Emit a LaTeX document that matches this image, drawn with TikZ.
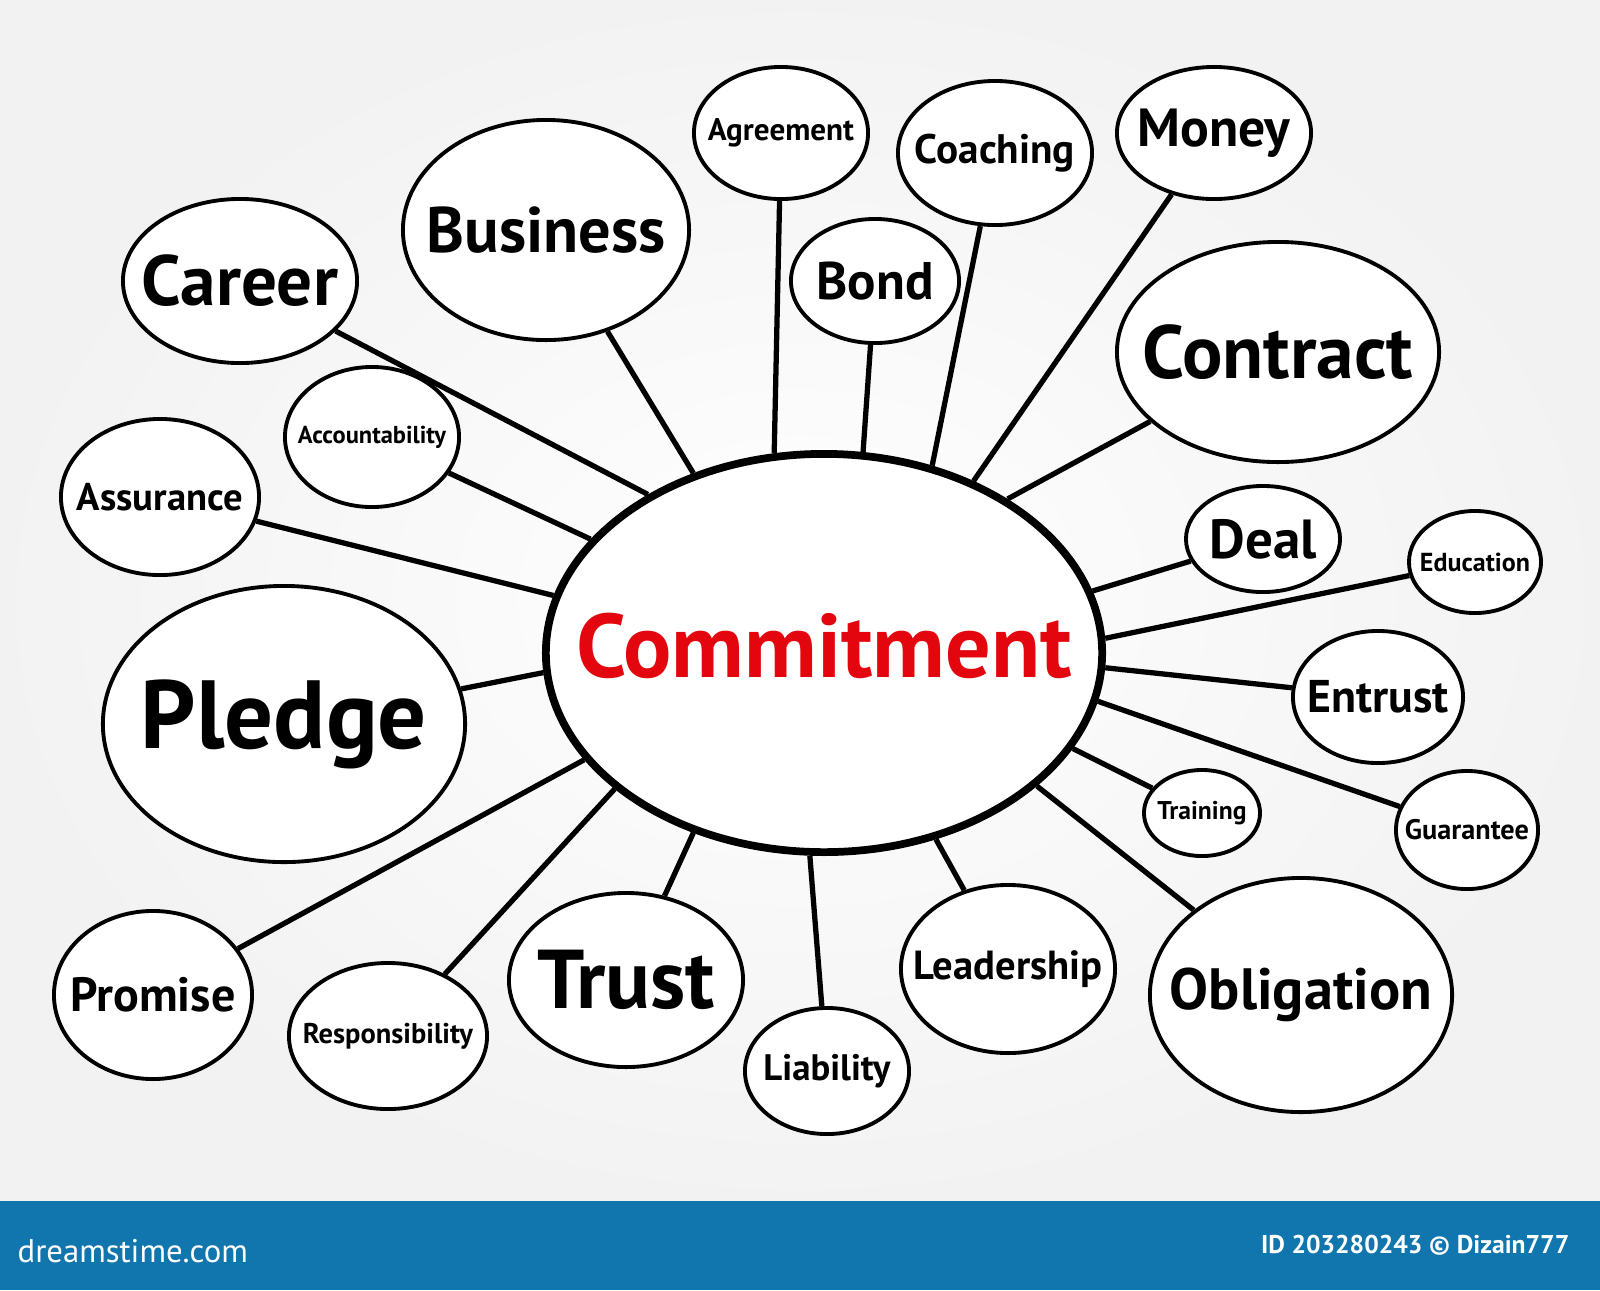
\documentclass[tikz,border=0pt]{standalone}
\usepackage{fontspec}
\setmainfont{PT Sans}
\usepackage{graphicx}
\usetikzlibrary{shapes.geometric}
\definecolor{commitred}{RGB}{228,6,14}
\definecolor{barblue}{RGB}{17,118,174}
\newcommand{\fitw}[2]{\makebox[0pt]{\resizebox{#1}{!}{#2}}}

\begin{document}
\begin{tikzpicture}[x=0.01cm,y=-0.01cm,
	centre node/.style={ellipse, draw, fill=white, line width=2.2pt, inner sep=0pt,
		minimum width=5.56cm, minimum height=3.98cm, text=commitred, font=\bfseries},
	idea node/.style={ellipse, draw, fill=white, line width=1.1pt, inner sep=0pt, font=\bfseries},
	ovalsize/.style 2 args={minimum width=#1cm, minimum height=#2cm},
	link/.style={line width=1.5pt},
	bar text/.style={text=white, inner sep=0pt}]

	\useasboundingbox (0,0) rectangle (1600,1290);
	\shade[inner color=white, outer color=black!5] (0,0) rectangle (1600,1201);
	\fill[barblue] (0,1201) rectangle (1600,1290);

	% centre
	\node[centre node](hub) at (824,653){\raisebox{0.15cm}{\fitw{4.95cm}{Commitment}}};

	% upper half
	\node[idea node, ovalsize={2.34}{1.64}](career) at (240,281){\fitw{1.96cm}{Career}};
	\node[idea node, ovalsize={2.86}{2.20}](business) at (546,230){\fitw{2.39cm}{Business}};
	\node[idea node, ovalsize={1.74}{1.32}](agreement) at (781,133){\fitw{1.46cm}{Agreement}};
	\node[idea node, ovalsize={1.94}{1.44}](coaching) at (995,153){\fitw{1.60cm}{Coaching}};
	\node[idea node, ovalsize={1.94}{1.32}](money) at (1214,133){\fitw{1.53cm}{Money}};
	\node[idea node, ovalsize={1.68}{1.24}](bond) at (875,281){\fitw{1.17cm}{Bond}};
	\node[idea node, ovalsize={3.22}{2.20}](contract) at (1278,352){\fitw{2.70cm}{Contract}};
	\node[idea node, ovalsize={1.74}{1.40}](account) at (372,437){\fitw{1.48cm}{Accountability}};
	\node[idea node, ovalsize={1.98}{1.56}](assurance) at (160,497){\fitw{1.66cm}{Assurance}};

	% right side
	\node[idea node, ovalsize={1.54}{1.06}](deal) at (1263,539){\fitw{1.07cm}{Deal}};
	\node[idea node, ovalsize={1.32}{1.02}](education) at (1475,562){\fitw{1.10cm}{Education}};
	\node[idea node, ovalsize={1.70}{1.32}](entrust) at (1378,697){\fitw{1.41cm}{Entrust}};
	\node[idea node, ovalsize={1.16}{0.86}](training) at (1202,813){\fitw{0.89cm}{Training}};
	\node[idea node, ovalsize={1.42}{1.18}](guarantee) at (1467,830){\fitw{1.24cm}{Guarantee}};

	% lower half
	\node[idea node, ovalsize={3.62}{2.76}](pledge) at (284,724){\fitw{2.86cm}{Pledge}};
	\node[idea node, ovalsize={3.02}{2.34}](obligation) at (1301,995){\fitw{2.62cm}{Obligation}};
	\node[idea node, ovalsize={2.14}{1.68}](leadership) at (1008,969){\fitw{1.89cm}{Leadership}};
	\node[idea node, ovalsize={1.64}{1.26}](liability) at (827,1071){\fitw{1.27cm}{Liability}};
	\node[idea node, ovalsize={2.34}{1.74}](trust) at (626,980){\fitw{1.77cm}{Trust}};
	\node[idea node, ovalsize={1.98}{1.46}](respons) at (388,1036){\fitw{1.70cm}{Responsibility}};
	\node[idea node, ovalsize={1.98}{1.68}](promise) at (153,995){\fitw{1.65cm}{Promise}};

	\path[link]
	(hub.138) edge (career)
	(hub.126) edge (business)
	(hub.104) edge (agreement)
	(hub.79)  edge (bond)
	(hub.60)  edge (coaching)
	(hub.49)  edge (money)
	(hub.40)  edge (contract)
	(hub.13)  edge (deal)
	(hub.3)   edge (education)
	(hub.357) edge (entrust)
	(hub.350) edge (guarantee)
	(hub.339) edge (training)
	(hub.328) edge (obligation)
	(hub.301) edge (leadership)
	(hub.266) edge (liability)
	(hub.234) edge (trust)
	(hub.213) edge (respons)
	(hub.204) edge (promise)
	(hub.184) edge (pledge)
	(hub.168) edge (assurance)
	(hub.154) edge (account);

	% footer
	\node[bar text, anchor=base west](site) at (17,1262){\resizebox{2.30cm}{!}{dreamstime.com}};
	\node[bar text, anchor=base east, font=\bfseries](credit) at (1570,1253){\resizebox{3.08cm}{!}{ID 203280243 © Dizain777}};
\end{tikzpicture}
\end{document}
